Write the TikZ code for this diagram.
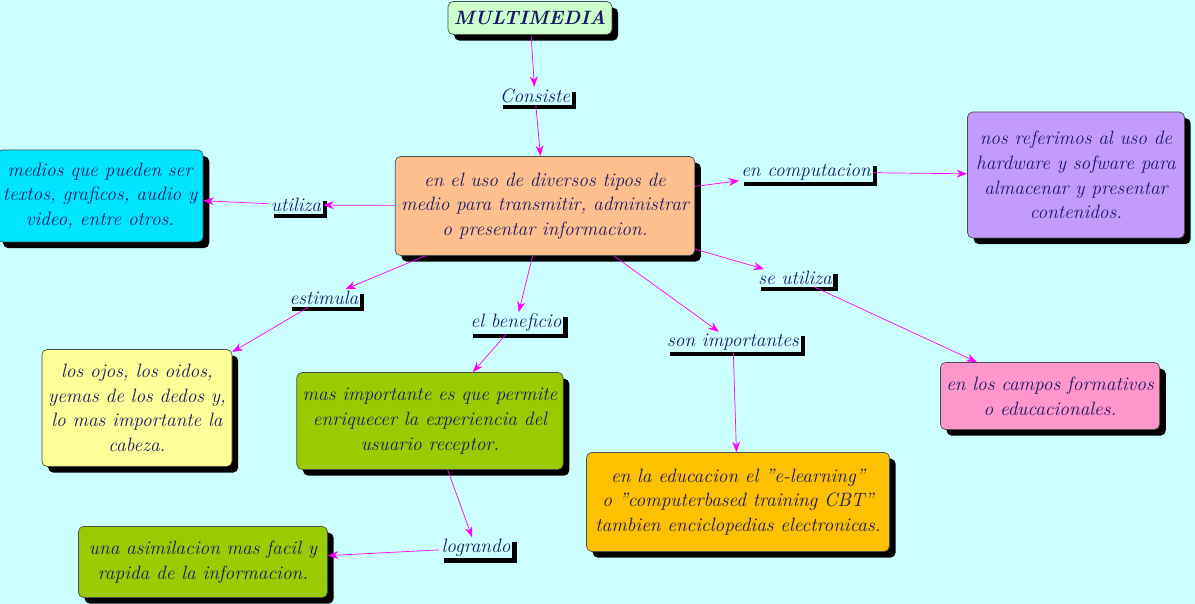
\documentclass[tikz,border=0pt]{standalone}
\usetikzlibrary{shadows,arrows.meta}
\definecolor{bgcol}{HTML}{CCFFFF}
\definecolor{txtcol}{HTML}{1A1A66}
\definecolor{arrcol}{HTML}{FF00FF}
\tikzset{
  concept/.style={draw=black!70, rounded corners=3pt, align=center, text=txtcol,
    font=\fontsize{11}{14}\selectfont\itshape,
    drop shadow={shadow xshift=3.5pt, shadow yshift=-3.5pt, fill=black, opacity=1}},
  link/.style={fill=bgcol, text=txtcol, inner sep=1pt, font=\fontsize{11}{13}\selectfont\itshape,
    drop shadow={shadow xshift=2.5pt, shadow yshift=-2.5pt, fill=black, opacity=1}},
  arr/.style={draw=arrcol, -{Stealth[length=6pt]}}
}
\begin{document}
\begin{tikzpicture}[x=0.02cm, y=-0.02cm]
\fill[bgcol] (0,0) rectangle (1195,604);
\useasboundingbox (0,0) rectangle (1195,604);

% concepts
\node[concept, fill={rgb,255:red,204;green,255;blue,204}, minimum width=155*0.02cm, minimum height=33*0.02cm, font=\fontsize{11}{14}\selectfont\bfseries\itshape] (multi) at (530,18) {MULTIMEDIA};
\node[concept, fill={rgb,255:red,255;green,192;blue,144}, minimum width=296*0.02cm, minimum height=99*0.02cm] (main) at (545,206)
  {en el uso de diversos tipos de\\ medio para transmitir, administrar\\ o presentar informacion.};
\node[concept, fill={rgb,255:red,0;green,229;blue,255}, minimum width=195*0.02cm, minimum height=92*0.02cm] (medios) at (100,196)
  {medios que pueden ser\\ textos, graficos, audio y\\ video, entre otros.};
\node[concept, fill={rgb,255:red,195;green,155;blue,255}, minimum width=217*0.02cm, minimum height=126*0.02cm] (refer) at (1076,175)
  {nos referimos al uso de\\ hardware y sofware para\\ almacenar y presentar\\ contenidos.};
\node[concept, fill={rgb,255:red,255;green,150;blue,204}, minimum width=215*0.02cm, minimum height=67*0.02cm] (campos) at (1050,396)
  {en los campos formativos\\ o educacionales.};
\node[concept, fill={rgb,255:red,255;green,255;blue,153}, minimum width=190*0.02cm, minimum height=117*0.02cm] (ojos) at (137,408)
  {los ojos, los oidos,\\ yemas de los dedos y,\\ lo mas importante la\\ cabeza.};
\node[concept, fill={rgb,255:red,153;green,204;blue,0}, minimum width=266*0.02cm, minimum height=97*0.02cm] (benef) at (430,421)
  {mas importante es que permite\\ enriquecer la experiencia del\\ usuario receptor.};
\node[concept, fill={rgb,255:red,255;green,192;blue,0}, minimum width=303*0.02cm, minimum height=99*0.02cm] (educ) at (738,502)
  {en la educacion el "e-learning"\\ o "computerbased training CBT"\\ tambien enciclopedias electronicas.};
\node[concept, fill={rgb,255:red,153;green,204;blue,0}, minimum width=249*0.02cm, minimum height=71*0.02cm] (asim) at (203,562)
  {una asimilacion mas facil y\\ rapida de la informacion.};

% linking phrases
\node[link] (consiste) at (535,96) {Consiste};
\node[link] (utiliza) at (296,205) {utiliza};
\node[link] (comput) at (806,172) {en computacion};
\node[link] (seutil) at (795,278) {se utiliza};
\node[link] (estim) at (324,298) {estimula};
\node[link] (elbenef) at (516,323) {el beneficio};
\node[link] (sonimp) at (733,342) {son importantes};
\node[link] (logr) at (476,548) {logrando};

% connectors
\draw[arr] (multi) -- (consiste);
\draw[arr] (consiste) -- (main);
\draw[arr] (main) -- (utiliza);
\draw[arr] (utiliza) -- (medios);
\draw[arr] (main) -- (comput);
\draw[arr] (comput) -- (refer);
\draw[arr] (main) -- (seutil);
\draw[arr] (seutil) -- (campos);
\draw[arr] (main) -- (estim);
\draw[arr] (estim) -- (ojos);
\draw[arr] (main) -- (elbenef);
\draw[arr] (elbenef) -- (benef);
\draw[arr] (main) -- (sonimp);
\draw[arr] (sonimp) -- (educ);
\draw[arr] (benef) -- (logr);
\draw[arr] (logr) -- (asim);
\end{tikzpicture}
\end{document}
